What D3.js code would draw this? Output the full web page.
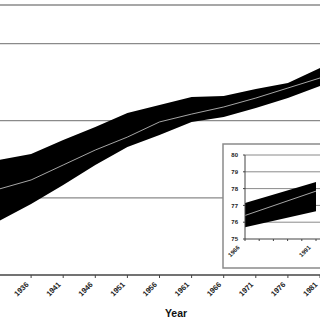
<!DOCTYPE html>
<html>
<head>
<meta charset="utf-8">
<script src="https://cdn.jsdelivr.net/npm/d3@7"></script>
<style>
  body { margin: 0; background: #fff; }
  svg { display: block; font-family: "Liberation Sans", Arial, sans-serif; }
</style>
</head>
<body>
<svg></svg>
<script>
// main chart, 5-year points
var years = [1931, 1936, 1941, 1946, 1951, 1956, 1961, 1966, 1971, 1976, 1981];
var upper = [72.45, 72.84, 73.75, 74.59, 75.50, 76.02, 76.54, 76.60, 77.05, 77.44, 78.42];
var center = [70.57, 71.16, 72.13, 73.10, 73.94, 74.92, 75.43, 75.89, 76.47, 77.12, 77.77];
var lower = [68.50, 69.60, 70.83, 72.13, 73.30, 74.08, 74.92, 75.24, 75.82, 76.47, 77.25];
var tickYears = [1936, 1941, 1946, 1951, 1956, 1961, 1966, 1971, 1976, 1981];
var gridValues = [70, 75, 80];

// inset
var insetYears = [1966, 1991];
var insetUpper = [77.15, 78.4];
var insetCenter = [76.4, 77.85];
var insetLower = [75.7, 76.65];
var insetYTicks = [75, 76, 77, 78, 79, 80];
var insetXLabels = [1966, 1991];
var insetXTicks = [1966, 1971, 1976, 1981, 1986, 1991];

function render() {
    var w = 320;
    var h = 320;
    var svg = d3.select('svg').attr('width', w).attr('height', h);

    var x = d3.scaleLinear().domain([1931, 1981]).range([-1, 320]);
    var y = d3.scaleLinear().domain([65, 82.5]).range([275, 5]);

    // top border + gridlines
    svg.append('line').attr('x1', 0).attr('x2', w).attr('y1', y(82.5)).attr('y2', y(82.5))
        .attr('stroke', '#8a8a8a').attr('stroke-width', 1.3);
    svg.selectAll('.grid').data(gridValues).enter().append('line')
        .attr('x1', 0).attr('x2', w)
        .attr('y1', function (d) { return y(d); }).attr('y2', function (d) { return y(d); })
        .attr('stroke', '#8a8a8a').attr('stroke-width', 1.3);

    var band = years.map(function (yr, i) {
        return { year: yr, up: upper[i], mid: center[i], lo: lower[i] };
    });

    var area = d3.area()
        .x(function (d) { return x(d.year); })
        .y0(function (d) { return y(d.lo); })
        .y1(function (d) { return y(d.up); });
    var line = d3.line()
        .x(function (d) { return x(d.year); })
        .y(function (d) { return y(d.mid); });

    svg.append('path').datum(band).attr('d', area).attr('fill', '#000');
    svg.append('path').datum(band).attr('d', line).attr('fill', 'none')
        .attr('stroke', '#cfcfcf').attr('stroke-width', 0.8);

    // x axis
    svg.append('line').attr('x1', 0).attr('x2', w).attr('y1', y(65)).attr('y2', y(65))
        .attr('stroke', '#444').attr('stroke-width', 1.5);
    svg.selectAll('.xtick').data(tickYears).enter().append('line')
        .attr('x1', function (d) { return x(d); }).attr('x2', function (d) { return x(d); })
        .attr('y1', y(65)).attr('y2', y(65) + 3)
        .attr('stroke', '#444').attr('stroke-width', 1);
    svg.selectAll('.xlabel').data(tickYears).enter().append('text')
        .attr('transform', function (d) {
            return 'translate(' + (x(d) - 2) + ',' + 285 + ') rotate(-45)';
        })
        .attr('text-anchor', 'end')
        .attr('font-size', 7.5).attr('font-weight', 'bold').attr('fill', '#222')
        .text(function (d) { return d; });

    svg.append('text').attr('x', 176).attr('y', 317).attr('text-anchor', 'middle')
        .attr('font-size', 10.5).attr('font-weight', 'bold').attr('fill', '#111')
        .text('Year');

    // ---- inset ----
    var ix = d3.scaleLinear().domain([1966, 1991]).range([245, 316]);
    var iy = d3.scaleLinear().domain([75, 80]).range([239, 155]);

    svg.append('rect').attr('x', 223).attr('y', 144).attr('width', 120).attr('height', 124)
        .attr('fill', '#fff').attr('stroke', '#8a8a8a').attr('stroke-width', 1.5);

    svg.selectAll('.igrid').data(insetYTicks.slice(1)).enter().append('line')
        .attr('x1', ix(1966)).attr('x2', w)
        .attr('y1', function (d) { return iy(d); }).attr('y2', function (d) { return iy(d); })
        .attr('stroke', '#8a8a8a').attr('stroke-width', 1);

    var iband = insetYears.map(function (yr, i) {
        return { year: yr, up: insetUpper[i], mid: insetCenter[i], lo: insetLower[i] };
    });
    var iarea = d3.area()
        .x(function (d) { return ix(d.year); })
        .y0(function (d) { return iy(d.lo); })
        .y1(function (d) { return iy(d.up); });
    var iline = d3.line()
        .x(function (d) { return ix(d.year); })
        .y(function (d) { return iy(d.mid); });
    svg.append('path').datum(iband).attr('d', iarea).attr('fill', '#000');
    svg.append('path').datum(iband).attr('d', iline).attr('fill', 'none')
        .attr('stroke', '#cfcfcf').attr('stroke-width', 0.8);

    // inset axes
    svg.append('line').attr('x1', ix(1966)).attr('x2', ix(1966))
        .attr('y1', iy(80)).attr('y2', iy(75)).attr('stroke', '#444').attr('stroke-width', 1);
    svg.append('line').attr('x1', ix(1966)).attr('x2', w)
        .attr('y1', iy(75)).attr('y2', iy(75)).attr('stroke', '#444').attr('stroke-width', 1.2);
    svg.selectAll('.iytick').data(insetYTicks).enter().append('line')
        .attr('x1', ix(1966) - 2).attr('x2', ix(1966))
        .attr('y1', function (d) { return iy(d); }).attr('y2', function (d) { return iy(d); })
        .attr('stroke', '#444').attr('stroke-width', 1);
    svg.selectAll('.iylabel').data(insetYTicks).enter().append('text')
        .attr('x', 238).attr('y', function (d) { return iy(d); }).attr('dy', '0.35em')
        .attr('text-anchor', 'end').attr('font-size', 6).attr('font-weight', 'bold').attr('fill', '#222')
        .text(function (d) { return d; });
    svg.selectAll('.ixtick').data(insetXTicks).enter().append('line')
        .attr('x1', function (d) { return ix(d); }).attr('x2', function (d) { return ix(d); })
        .attr('y1', iy(75)).attr('y2', iy(75) + 2)
        .attr('stroke', '#444').attr('stroke-width', 1);
    svg.selectAll('.ixlabel').data(insetXLabels).enter().append('text')
        .attr('transform', function (d) {
            return 'translate(' + (ix(d) - 5) + ',' + 248 + ') rotate(-45)';
        })
        .attr('text-anchor', 'end')
        .attr('font-size', 6).attr('font-weight', 'bold').attr('fill', '#222')
        .text(function (d) { return d; });
}

render();
</script>
</body>
</html>
